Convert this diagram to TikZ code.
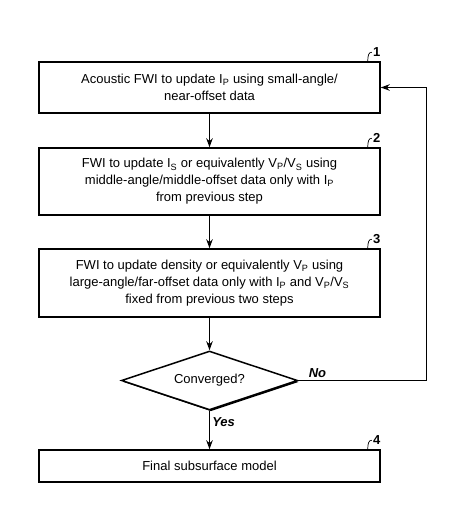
\documentclass[tikz,border=0pt]{standalone}
\usepackage{fontspec}
\setmainfont{Liberation Sans}
\usetikzlibrary{shapes.geometric, positioning, arrows.meta, shadows}
\tikzset{->,>={Stealth[length=9pt,width=6.5pt]},
every node/.style={font=\fontsize{13}{17}\selectfont},
flowbox/.style={draw, line width=1.5pt, fill=white, minimum width=341pt,
    align=center, inner sep=0pt,
    drop shadow={shadow xshift=1.4pt, shadow yshift=-1.4pt, fill=black, opacity=1}},
decision/.style={diamond, aspect=3, draw, line width=1.5pt, fill=white, inner sep=0pt,
    minimum width=176pt, minimum height=59pt,
    drop shadow={shadow xshift=1.4pt, shadow yshift=-1.4pt, fill=black, opacity=1}},
answer/.style={font=\bfseries\itshape\fontsize{13}{14}\selectfont, inner sep=2pt},
}
\newcommand{\sub}{\textsubscript}
\newcommand{\stepnum}[2]{%
    \draw[-, line width=0.7pt] ([xshift=-13pt]#1.north east)
        .. controls +(0,-6) and +(-3,0) .. ++(4,-9)
        node[right, inner sep=1pt, font=\bfseries\fontsize{13}{13}\selectfont] {#2};}

\begin{document}
\begin{tikzpicture}[x=1pt, y=-1pt, line width=1.5pt]
    \useasboundingbox (0,0) rectangle (474,526);
    % steps
    \node[flowbox, minimum height=51pt] (upIp) at (209.5,87.5)
        {Acoustic FWI to update I\sub{P} using small-angle/\\near-offset data};
    \node[flowbox, minimum height=67pt, below=33.5pt of upIp] (upIs)
        {FWI to update I\sub{S} or equivalently V\sub{P}/V\sub{S} using\\
         middle-angle/middle-offset data only with I\sub{P}\\from previous step};
    \node[flowbox, minimum height=68pt, below=32.5pt of upIs] (upRho)
        {FWI to update density or equivalently V\sub{P} using\\
         large-angle/far-offset data only with I\sub{P} and V\sub{P}/V\sub{S}\\
         fixed from previous two steps};
    \node[decision, below=32.5pt of upRho] (conv) {Converged?};
    \node[flowbox, minimum height=32pt, below=38.5pt of conv] (final)
        {Final subsurface model};
    % step numbers
    \stepnum{upIp}{1}
    \stepnum{upIs}{2}
    \stepnum{upRho}{3}
    \stepnum{final}{4}
    % connectors
    \draw (upIp) -- (upIs);
    \draw (upIs) -- (upRho);
    \draw (upRho) -- (conv);
    \draw (conv.south) -- node[answer, right, pos=0.3] {Yes} (final.north);
    \draw (conv.east) -- node[answer, above, pos=0.15] {No} ++(128,0) |- (upIp.east);
\end{tikzpicture}
\end{document}
